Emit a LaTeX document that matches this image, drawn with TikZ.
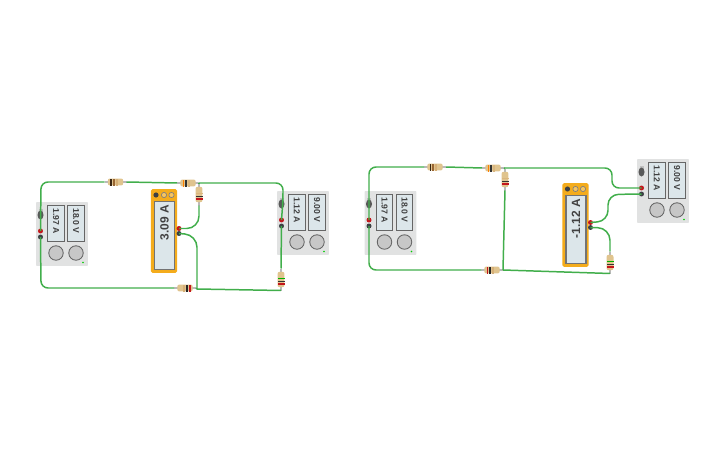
\documentclass[tikz,border=0pt]{standalone}
\usepackage{fontspec}
\setmainfont{Liberation Sans}
\definecolor{wiregreen}{HTML}{41AE4B}
\definecolor{panelgrey}{HTML}{E1E2E2}
\definecolor{screenblue}{HTML}{DCE6EA}
\definecolor{meterorange}{HTML}{F4AC1C}
\definecolor{restan}{HTML}{E0C48E}
\definecolor{termred}{HTML}{C4161C}
\definecolor{termdark}{HTML}{3C4044}
\tikzset{
  wire/.style={draw=wiregreen,line width=0.85pt,rounded corners=4pt},
  lead/.style={draw=gray!55,line width=0.8pt},
  panel/.style={fill=panelgrey,rounded corners=0.5pt,minimum width=1.04cm,minimum height=1.28cm,inner sep=0pt},
  display/.style={fill=screenblue,draw=black!60,line width=0.8pt,inner sep=0pt,minimum width=0.33cm,minimum height=0.73cm},
  readout/.style={inner sep=0pt,font=\bfseries\fontsize{4.9}{5}\selectfont,text=black!75,rotate=-90,anchor=west},
  knob/.style={circle,fill=black!22,draw=black!60,line width=0.5pt,minimum size=0.29cm,inner sep=0pt},
  plusterm/.style={circle,fill=termred,minimum size=0.1cm,inner sep=0pt},
  minusterm/.style={circle,fill=termdark,minimum size=0.1cm,inner sep=0pt},
  meterbody/.style={fill=meterorange,rounded corners=1pt,minimum width=0.53cm,minimum height=1.68cm,inner sep=0pt},
  meterscreen/.style={fill=screenblue,draw=black!55,line width=0.9pt,minimum width=0.4cm,minimum height=1.36cm,inner sep=0pt},
  meterread/.style={inner sep=0pt,font=\bfseries\fontsize{6.8}{7}\selectfont,text=black!75,rotate=90,anchor=east},
  resbody/.style={fill=restan,rounded corners=1.2pt,minimum width=0.31cm,minimum height=0.14cm,inner sep=0pt},
}
% name, x, y, current, voltage
\newcommand{\supply}[5]{
  \node[panel] (#1) at (#2,#3) {};
  \begin{scope}[shift={(#2,#3)}]
    \node[display] (#1a) at (-6,-10.5) {};
    \node[display] (#1v) at (14,-10.5) {};
    \node[readout] (#1i) at (-6,-26) {#4};
    \node[readout] (#1u) at (14,-26) {#5};
    \node[knob] (#1k) at (-6,19) {};
    \node[knob] (#1l) at (14,19) {};
    \fill[black!25] (-23.5,-25) rectangle (-19.5,-20);
    \fill[black!65] (-21.5,-19) ellipse (3 and 4.5);
    \fill[green!80!black] (21,28.5) circle (0.9);
    \node[plusterm] (#1p) at (-21.5,-3) {};
    \node[minusterm] (#1n) at (-21.5,3) {};
  \end{scope}
}
% name, x, y, reading
\newcommand{\meter}[4]{
  \node[meterbody] (#1) at (#2,#3) {};
  \begin{scope}[shift={(#2,#3)}]
    \node[meterscreen] (#1s) at (0.5,4.5) {};
    \node[meterread] (#1t) at (0.5,-26) {#4};
    \fill[termdark] (-8,-36) circle (2.6);
    \draw[fill=meterorange!70!white,draw=black!50,line width=0.4pt] (0,-36) circle (2.6);
    \draw[fill=meterorange!70!white,draw=black!50,line width=0.4pt] (7.5,-36) circle (2.6);
    \node[plusterm] (#1p) at (15,-2.5) {};
    \node[minusterm] (#1n) at (15,2.5) {};
  \end{scope}
}
% name, x, y, rotation, three bands
\newcommand{\resistor}[7]{
  \begin{scope}[shift={(#2,#3)},rotate=#4]
    \coordinate (#1l) at (-11,0);
    \coordinate (#1r) at (11,0);
    \draw[lead] (#1l) -- (#1r);
    \node[resbody,rotate=#4] (#1) at (0,0) {};
    \fill[#5] (-5.5,-3.5) rectangle (-3.7,3.5);
    \fill[#6] (-2.8,-3.5) rectangle (-1,3.5);
    \fill[#7] (0.2,-3.5) rectangle (2,3.5);
  \end{scope}
}
\begin{document}
\begin{tikzpicture}[x=0.02cm,y=-0.02cm]
  \useasboundingbox (0,0) rectangle (725,453);

  % left circuit
  \supply{supA}{62}{234}{1.97 A}{18.0 V}
  \supply{supB}{303}{223}{1.12 A}{9.00 V}
  \meter{metA}{164}{231}{3.09 A}
  \resistor{resA}{115.5}{182}{0}{black!70!brown}{brown!80!black}{restan!70!brown}
  \resistor{resB}{188}{183}{0}{orange}{black!80}{restan!80!brown}
  \resistor{resC}{199}{194.5}{90}{termred}{black!80}{restan!80!brown}
  \resistor{resD}{185}{288}{180}{termred}{black!85}{restan!70!brown}
  \resistor{resE}{281}{279.5}{90}{termred}{black!80}{black!30!green}
  \coordinate (botA) at (197,289);

  \draw[wire] (supAp.center) -- (41,182) -- (resAl);
  \draw[wire] (resAr) -- (resBl);
  \draw[wire] (resBr) -- (283,183) -- (283,200) -- (supBp.center);
  \draw[wire] (resBr) -- (resCr);
  \draw[wire,rounded corners=7pt] (resCl) -- (199,228.5) -- (metAp.center);
  \draw[wire,rounded corners=7pt] (metAn.center) -- (197,235) -- (botA);
  \draw[wire] (supAn.center) -- (41,288) -- (resDr);
  \draw[wire] (resDl) -- (botA);
  \draw[wire] (botA) -- (resEl);
  \draw[wire] (supBn.center) -- (resEr);

  % right circuit
  \supply{supC}{390.5}{223}{1.97 A}{18.0 V}
  \supply{supD}{663}{191}{1.12 A}{9.00 V}
  \meter{metB}{575.5}{225}{-1.12 A}
  \resistor{resF}{435}{167}{0}{black!70!brown}{brown!80!black}{restan!70!brown}
  \resistor{resG}{493}{168}{0}{orange}{black!80}{restan!80!brown}
  \resistor{resH}{505}{179.5}{90}{termred}{black!80}{restan!80!brown}
  \resistor{resI}{492}{270}{0}{termred}{black!85}{restan!70!brown}
  \resistor{resJ}{610}{262.5}{90}{termred}{black!80}{black!30!green}
  \coordinate (botB) at (503,270);

  \draw[wire] (supCp.center) -- (369,167) -- (resFl);
  \draw[wire] (resFr) -- (resGl);
  \draw[wire] (resGr) -- (612,168) -- (612,188) -- (supDp.center);
  \draw[wire] (resGr) -- (resHr);
  \draw[wire] (resHl) -- (botB);
  \draw[wire] (supCn.center) -- (369,270) -- (resIl);
  \draw[wire] (resIr) -- (botB);
  \draw[wire] (botB) -- (resJl);
  \draw[wire,rounded corners=6pt] (metBp.center) -- (608,221) -- (608,194.5) -- (supDn.center);
  \draw[wire,rounded corners=7pt] (metBn.center) -- (610,228) -- (resJr);
\end{tikzpicture}
\end{document}
